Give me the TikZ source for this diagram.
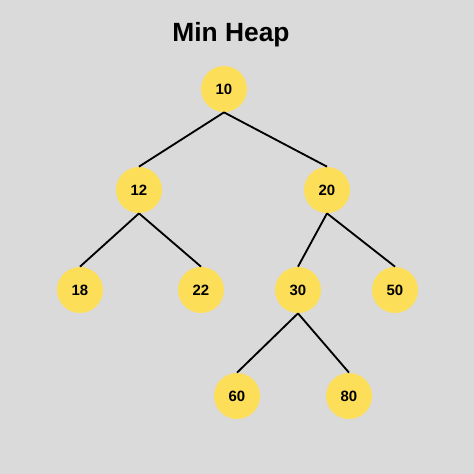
\documentclass[tikz,border=0pt]{standalone}
\usepackage{fontspec}
\setmainfont{Liberation Sans}
\definecolor{heapbg}{RGB}{218,218,218}
\definecolor{heapyellow}{RGB}{253,222,89}
\tikzset{
    heapnode/.style={circle, fill=heapyellow, minimum size=46*0.02cm, inner sep=0pt, font=\fontsize{8.5}{8.5}\selectfont\bfseries},
    heapedge/.style={black, line width=1.05pt}
}

\begin{document}
\begin{tikzpicture}[x=0.02cm, y=-0.02cm]

   % Background
    \fill[heapbg] (0,0) rectangle (474,474);
    \useasboundingbox (0,0) rectangle (474,474);

   % Title
    \node[font=\fontsize{15}{15}\selectfont\bfseries] (title) at (231,35) {Min Heap};

   % Nodes
    \node[heapnode] (n10) at (224,89)  {10};
    \node[heapnode] (n12) at (139,190) {12};
    \node[heapnode] (n20) at (327,190) {20};
    \node[heapnode] (n18) at (80,290)  {18};
    \node[heapnode] (n22) at (201,290) {22};
    \node[heapnode] (n30) at (298,290) {30};
    \node[heapnode] (n50) at (395,290) {50};
    \node[heapnode] (n60) at (237,396) {60};
    \node[heapnode] (n80) at (349,396) {80};

   % Edges
    \foreach \p/\c in {n10/n12, n10/n20, n12/n18, n12/n22, n20/n30, n20/n50, n30/n60, n30/n80}
      \draw[heapedge] (\p.south) -- (\c.north);

\end{tikzpicture}
\end{document}
